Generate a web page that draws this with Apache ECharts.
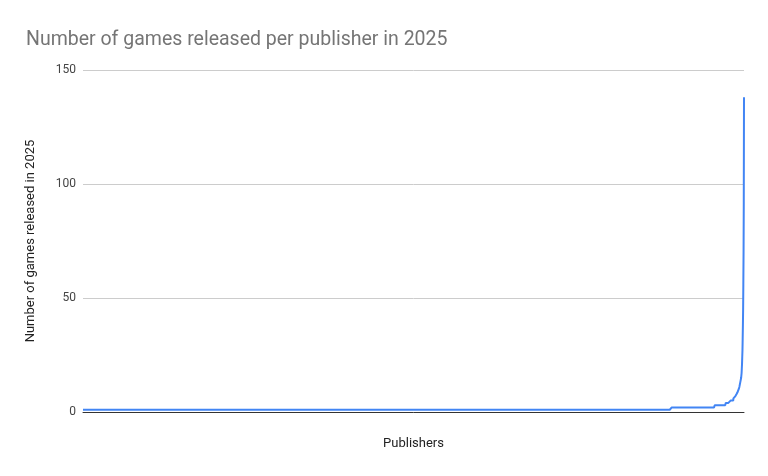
<!DOCTYPE html>
<html>
<head>
<meta charset="utf-8">
<title>Games per publisher 2025</title>
<script src="https://cdn.jsdelivr.net/npm/echarts@6/dist/echarts.min.js"></script>
<style>
	html, body { margin: 0; padding: 0; background: #fff; }
	#chart { width: 768px; height: 476px; }
</style>
</head>
<body>
<div id="chart"></div>
<script>
// how many games a publisher released, and how many publishers released that many
var gameCounts      = [1,    2,   3,  4,  5, 6, 7, 8, 9, 10, 11, 12, 13, 14, 15, 16, 17, 19, 21, 24, 27, 32, 38, 45, 56, 70, 92, 138];
var publisherTally  = [2673, 195, 50, 22, 13, 9, 6, 5, 4, 3,  2,  2,  2,  2,  1,  1,  1,  1,  1,  1,  1,  1,  1,  1,  1,  1,  1,  1];
var yTicks = [0, 50, 100, 150];

// one point per publisher, sorted from smallest to largest
var values = [];
for (var i = 0; i < gameCounts.length; i++) {
	for (var j = 0; j < publisherTally[i]; j++) {
		values.push(gameCounts[i]);
	}
}
var publishers = values.map(function(v, i) { return 'Publisher ' + (i + 1); });

var chart = echarts.init(document.getElementById('chart'), null, { renderer: 'canvas' });

var option = {
	backgroundColor: '#ffffff',
	title: {
		text: 'Number of games released per publisher in 2025',
		left: 21,
		top: 25,
		textStyle: {
			fontFamily: 'Roboto',
			fontSize: 19.5,
			fontWeight: 'normal',
			color: '#757575'
		}
	},
	grid: {
		left: 83,
		right: 24,
		top: 70,
		bottom: 64
	},
	xAxis: {
		type: 'category',
		data: publishers,
		boundaryGap: false,
		name: 'Publishers',
		nameLocation: 'middle',
		nameGap: 25,
		nameTextStyle: { fontFamily: 'Roboto', fontSize: 13, color: '#222' },
		axisLine: { lineStyle: { color: '#333', width: 1 } },
		axisTick: { show: false },
		axisLabel: { show: false },
		splitLine: { show: false }
	},
	yAxis: {
		type: 'value',
		min: yTicks[0],
		max: yTicks[yTicks.length - 1],
		interval: 50,
		name: 'Number of games released in 2025',
		nameLocation: 'middle',
		nameGap: 46,
		nameTextStyle: { fontFamily: 'Roboto', fontSize: 13, color: '#222' },
		axisLine: { show: false },
		axisTick: { show: false },
		axisLabel: { fontFamily: 'Roboto', fontSize: 12, color: '#444', margin: 7 },
		splitLine: { lineStyle: { color: '#cccccc', width: 1 } }
	},
	series: [{
		name: 'Games released',
		type: 'line',
		data: values,
		showSymbol: false,
		sampling: 'none',
		animation: false,
		lineStyle: { color: '#4285f4', width: 2 },
		itemStyle: { color: '#4285f4' }
	}]
};

chart.setOption(option);

window.addEventListener('resize', function() {
	chart.resize();
});
</script>
</body>
</html>
